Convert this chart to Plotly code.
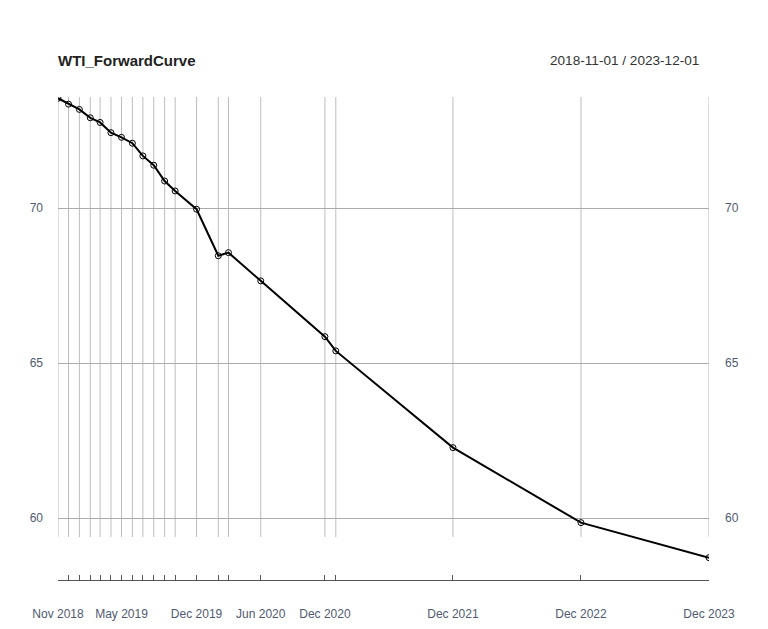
import plotly.graph_objects as go

dates = ["2018-11-01", "2018-12-01", "2019-01-01", "2019-02-01", "2019-03-01",
         "2019-04-01", "2019-05-01", "2019-06-01", "2019-07-01", "2019-08-01",
         "2019-09-01", "2019-10-01", "2019-12-01", "2020-02-01", "2020-03-01",
         "2020-06-01", "2020-12-01", "2021-01-01", "2021-12-01", "2022-12-01",
         "2023-12-01"]
prices = [73.54, 73.35, 73.18, 72.91, 72.76, 72.43, 72.28, 72.09, 71.68, 71.38,
          70.87, 70.55, 69.96, 68.46, 68.56, 67.65, 65.85, 65.39, 62.27, 59.85,
          58.72]
label_dates = ["2018-11-01", "2019-05-01", "2019-12-01", "2020-06-01",
               "2020-12-01", "2021-12-01", "2022-12-01", "2023-12-01"]
label_texts = ["Nov 2018", "May 2019", "Dec 2019", "Jun 2020", "Dec 2020",
               "Dec 2021", "Dec 2022", "Dec 2023"]
y_ticks = [60, 65, 70]
title = "WTI_ForwardCurve"
period = "2018-11-01 / 2023-12-01"

W, H = 768, 629
L, R, T, B = 58, 709, 97, 580
y_top = 70 + (208 - T) / 31
y_bot = 70 - (B - 208) / 31
grid_bottom = 70 - (537 - 208) / 31

ticktext = [label_texts[label_dates.index(d)] if d in label_dates else "" for d in dates]

fig = go.Figure()
fig.add_trace(go.Scatter(
    x=dates, y=prices, mode="lines+markers",
    line=dict(color="black", width=2),
    marker=dict(symbol="circle-open", size=6, color="black", line=dict(width=1)),
    hoverinfo="x+y", showlegend=False))
fig.add_trace(go.Scatter(x=[dates[0]], y=[prices[0]], yaxis="y2", mode="markers",
                         marker=dict(opacity=0), showlegend=False, hoverinfo="skip"))

shapes = []
for d in dates:
    shapes.append(dict(type="line", xref="x", yref="y", x0=d, x1=d,
                       y0=grid_bottom, y1=y_top, line=dict(color="#bdbdbd", width=1),
                       layer="below"))

lab_color = "#4f5a70"
fig.update_layout(
    width=W, height=H,
    margin=dict(l=L, r=W - R, t=T, b=H - B, pad=0),
    paper_bgcolor="white", plot_bgcolor="white",
    font=dict(family="Liberation Sans, Arial, sans-serif", size=12, color=lab_color),
    shapes=shapes,
    xaxis=dict(type="date", range=[dates[0], dates[-1]], showgrid=False, automargin=False,
               zeroline=False, showline=True, linecolor="#555555", linewidth=1,
               tickmode="array", tickvals=dates, ticktext=ticktext,
               ticks="inside", ticklen=5, tickcolor="#555555", tickwidth=1,
               ticklabelstandoff=23, tickfont=dict(size=12, color=lab_color)),
    yaxis=dict(range=[y_bot, y_top], showgrid=True, gridcolor="#ababab", gridwidth=1,
               automargin=False,
               zeroline=False, showline=False, tickmode="array", tickvals=y_ticks,
               ticks="", ticklabelstandoff=14, tickfont=dict(size=12, color=lab_color)),
    yaxis2=dict(range=[y_bot, y_top], overlaying="y", side="right", showgrid=False,
                automargin=False,
                zeroline=False, showline=False, tickmode="array", tickvals=y_ticks,
                ticks="", ticklabelstandoff=15, tickfont=dict(size=12, color=lab_color)),
    annotations=[
        dict(text="<b>" + title + "</b>", xref="paper", yref="paper",
             x=0, xshift=-2, y=(B - 60) / (B - T), xanchor="left", yanchor="middle",
             showarrow=False, font=dict(size=15, color="#222222")),
        dict(text=period, xref="paper", yref="paper",
             x=(701 - L) / (R - L), y=(B - 60) / (B - T), xanchor="right",
             yanchor="middle", showarrow=False, font=dict(size=13.6, color="#333333")),
    ],
)
fig.write_html("out.html")
